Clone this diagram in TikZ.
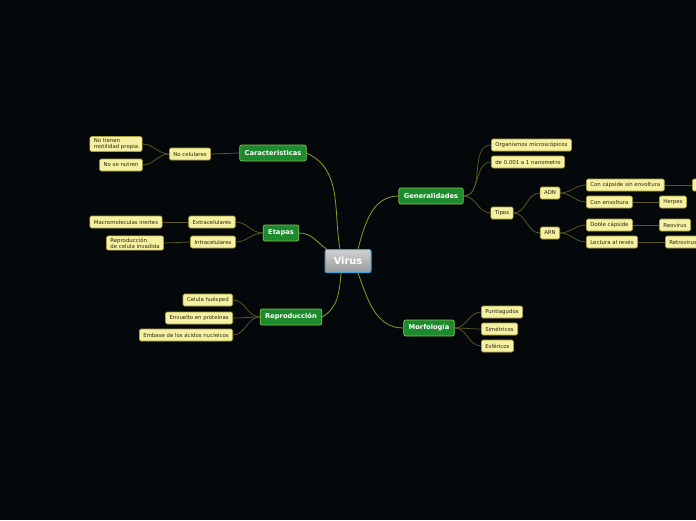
\documentclass[tikz,border=0pt]{standalone}
\usepackage{fontspec}
\setmainfont{DejaVu Sans}
\usetikzlibrary{backgrounds}
\definecolor{bgc}{HTML}{05080A}
\definecolor{rootline}{HTML}{3FA3D6}
\definecolor{brfill}{HTML}{1E8A2E}
\definecolor{brline}{HTML}{82C24E}
\definecolor{lffill}{HTML}{F6F0A2}
\definecolor{lfline}{HTML}{A89E3C}
\definecolor{lftext}{HTML}{2A2812}
\definecolor{mainline}{HTML}{8CAA26}
\definecolor{subline}{HTML}{5E5822}

\begin{document}
\begin{tikzpicture}[x=1pt,y=1pt,
  root/.style={draw=rootline, line width=1pt, rounded corners=2pt, top color=gray!35, bottom color=gray!80, text=white, font=\bfseries\fontsize{9.8}{10}\selectfont, minimum width=46pt, minimum height=23pt},
  branch/.style={draw=brline, fill=brfill, line width=0.7pt, rounded corners=2pt, text=white, font=\bfseries\fontsize{6.7}{7}\selectfont, minimum height=16pt, inner xsep=5pt},
  leaf/.style={draw=lfline, fill=lffill, line width=0.6pt, rounded corners=1.5pt, text=lftext, font=\fontsize{5.4}{5.8}\selectfont, minimum height=12pt, inner xsep=4pt, inner ysep=2pt},
  main/.style={draw=mainline, line width=0.75pt},
  sub/.style={draw=subline, line width=0.75pt}]
\useasboundingbox (0,0) rectangle (696,-520);
\clip (0,0) rectangle (696,-520);

\node[root] (virus) at (348,-261) {Virus};

\node[branch] (car) at (273,-153) {Caracteristicas};
\node[leaf] (nocel) at (190,-154) {No celulares};
\node[leaf, align=left] (motil) at (116,-144) {No tienen\\motilidad propia};
\node[leaf] (nutren) at (121,-165) {No se nutren};

\node[branch] (eta) at (281,-233) {Etapas};
\node[leaf] (extra) at (212,-222) {Extracelulares};
\node[leaf] (intra) at (213,-242) {Intracelulares};
\node[leaf] (macro) at (126,-222) {Macromoleculas inertes};
\node[leaf, align=left] (repcel) at (135,-243) {Reproducción\\de celula invadida};

\node[branch] (rep) at (291,-317) {Reproducción};
\node[leaf, anchor=east] (hues) at (233,-300) {Celula huésped};
\node[leaf, anchor=east] (prot) at (233,-318) {Envuelto en proteínas};
\node[leaf, anchor=east] (emb) at (233,-335) {Embase de los ácidos nucleicos};

\node[branch] (gen) at (431,-196) {Generalidades};
\node[leaf, anchor=west] (org) at (491,-145) {Organismos microscópicos};
\node[leaf, anchor=west] (nano) at (491,-162) {de 0.001 a 1 nanometro};
\node[leaf] (tipos) at (502,-213) {Tipos};
\node[leaf] (adn) at (550,-193) {ADN};
\node[leaf] (arn) at (550,-233) {ARN};
\node[leaf, anchor=west] (sinenv) at (586,-185) {Con cápside sin envoltura};
\node[leaf, anchor=west] (conenv) at (586,-202) {Con envoltura};
\node[leaf, anchor=west] (doble) at (586,-225) {Doble cápside};
\node[leaf, anchor=west] (lect) at (586,-242) {Lectura al revés};
\node[leaf, anchor=west, minimum width=30pt] (hidden) at (692,-185) {};
\node[leaf, anchor=west] (herpes) at (659,-202) {Herpes};
\node[leaf, anchor=west] (reo) at (659,-225) {Reovirus};
\node[leaf, anchor=west] (retro) at (665,-242) {Retrovirus};

\node[branch] (mor) at (429,-328) {Morfología};
\node[leaf, anchor=west] (punt) at (481,-312) {Puntiagudos};
\node[leaf, anchor=west] (sim) at (481,-329) {Simétricos};
\node[leaf, anchor=west] (esf) at (481,-346) {Esféricos};

\begin{scope}[on background layer]
\fill[bgc] (0,0) rectangle (696,-520);
\draw[main] (car.east) to[out=-25,in=100] ([xshift=-8pt]virus.north);
\draw[main] (eta.east) to[out=0,in=145] ([xshift=2pt]virus.north west);
\draw[main] (rep.east) to[out=30,in=-95] ([xshift=-7pt]virus.south);
\draw[main] ([xshift=10pt]virus.north) to[out=75,in=180] (gen.west);
\draw[main] ([xshift=10pt]virus.south) to[out=-70,in=180] (mor.west);

\draw[sub] (nocel.east) -- (car.west);
\foreach \c in {motil,nutren} \draw[sub] (nocel.west) to[out=180,in=0] (\c.east);
\foreach \c in {extra,intra} \draw[sub] (eta.west) to[out=180,in=0] (\c.east);
\draw[sub] (extra.west) -- (macro.east);
\draw[sub] (intra.west) -- (repcel.east);
\foreach \c in {hues,prot,emb} \draw[sub] (rep.west) to[out=180,in=0] (\c.east);
\foreach \c in {org,nano,tipos} \draw[sub] (gen.east) to[out=0,in=180] (\c.west);
\foreach \c in {adn,arn} \draw[sub] (tipos.east) to[out=0,in=180] (\c.west);
\foreach \c in {sinenv,conenv} \draw[sub] (adn.east) to[out=0,in=180] (\c.west);
\foreach \c in {doble,lect} \draw[sub] (arn.east) to[out=0,in=180] (\c.west);
\draw[sub] (sinenv.east) -- (hidden.west);
\draw[sub] (conenv.east) -- (herpes.west);
\draw[sub] (doble.east) -- (reo.west);
\draw[sub] (lect.east) -- (retro.west);
\foreach \c in {punt,sim,esf} \draw[sub] (mor.east) to[out=0,in=180] (\c.west);
\end{scope}
\end{tikzpicture}
\end{document}
